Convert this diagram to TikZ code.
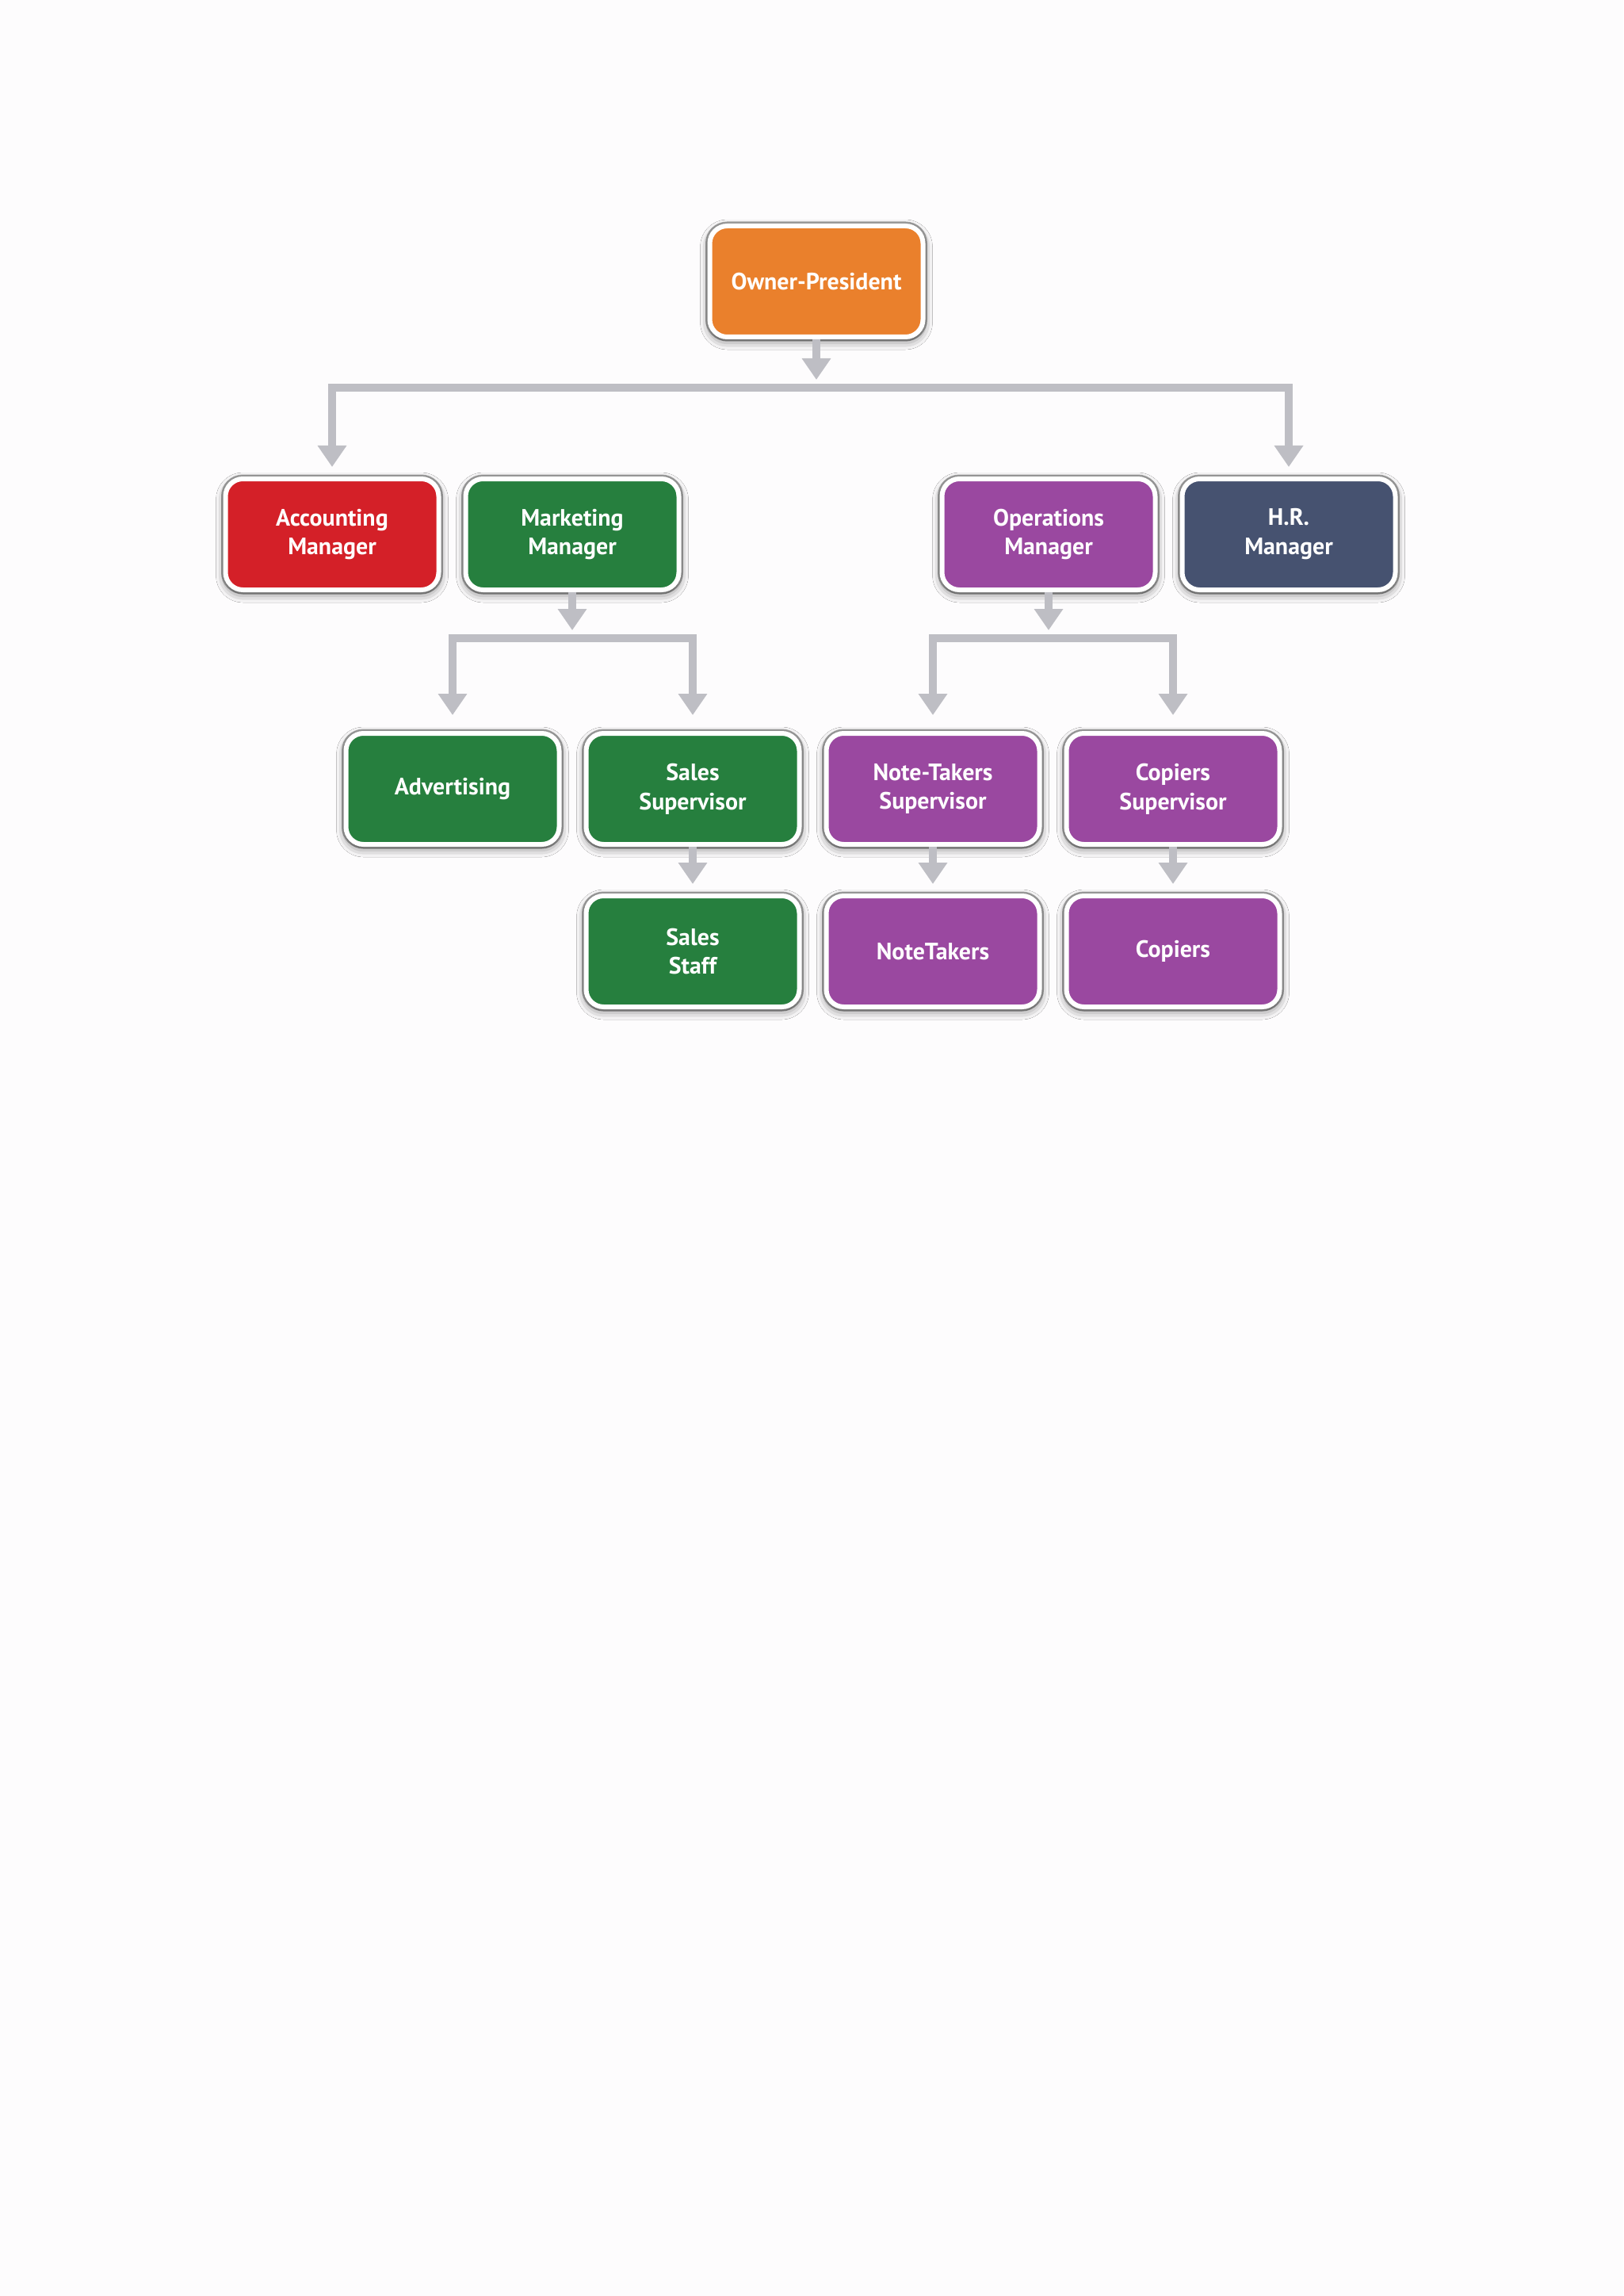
\documentclass[tikz,border=0pt]{standalone}
\usepackage{fontspec}
\setmainfont{PT Sans}
\usetikzlibrary{positioning, arrows.meta, shadows.blur, calc}
\definecolor{orgorange}{RGB}{234,128,44}
\definecolor{orgred}{RGB}{212,32,40}
\definecolor{orggreen}{RGB}{38,127,62}
\definecolor{orgpurple}{RGB}{154,72,160}
\definecolor{orgnavy}{RGB}{70,82,112}
\definecolor{orggrey}{RGB}{190,190,196}
\definecolor{orgpaper}{RGB}{253,252,253}

\begin{document}
\begin{tikzpicture}[
      node distance=0.28cm,
      unit/.style={rectangle, rounded corners=0.22cm, draw=white, line width=0.06cm,
        preaction={draw=black!35, line width=0.11cm},
        blur shadow={shadow xshift=0pt, shadow yshift=-0.04cm, shadow blur radius=0.12cm, shadow opacity=60},
        text=white, font=\fontsize{8.5}{10.5}\selectfont\bfseries, align=center,
        minimum width=2.69cm, minimum height=1.40cm},
      link/.style={draw=orggrey, line width=0.1cm},
      arrow/.style={link, -{Triangle[width=0.35cm, length=0.27cm]}}
    ]
      % Page
      \fill[orgpaper] (0,0) rectangle (20.48,-28.96);
      \useasboundingbox (0,0) rectangle (20.48,-28.96);

      % Owner
      \node[unit, fill=orgorange] (owner) at (10.30,-3.55) {Owner-President};

      % Managers
      \node[unit, fill=orgred] (acc) at (4.19,-6.74) {Accounting\\Manager};
      \node[unit, fill=orggreen, right=of acc] (mkt) {Marketing\\Manager};
      \node[unit, fill=orgpurple] (ops) at (13.23,-6.74) {Operations\\Manager};
      \node[unit, fill=orgnavy, right=of ops] (hr) {H.R.\\Manager};

      % Supervisors
      \node[unit, fill=orggreen] (adv) at (5.71,-9.95) {Advertising};
      \node[unit, fill=orggreen, right=of adv] (salessup) {Sales\\Supervisor};
      \node[unit, fill=orgpurple, right=of salessup] (notesup) {Note-Takers\\Supervisor};
      \node[unit, fill=orgpurple, right=of notesup] (copysup) {Copiers\\Supervisor};

      % Staff
      \node[unit, fill=orggreen, below=0.59cm of salessup] (salesstaff) {Sales\\Staff};
      \node[unit, fill=orgpurple, below=0.59cm of notesup] (notestaff) {NoteTakers};
      \node[unit, fill=orgpurple, below=0.59cm of copysup] (copystaff) {Copiers};

      % Bus points
      \coordinate[below=0.61cm of owner] (topbus);
      \coordinate[below=0.58cm of mkt] (mktbus);
      \coordinate[below=0.58cm of ops] (opsbus);

      % Draw arrows
      \draw[arrow, shorten >=0.1cm] (owner) -- (topbus);
      \draw[arrow, shorten >=0.12cm] (topbus) -| (acc);
      \draw[arrow, shorten >=0.12cm] (topbus) -| (hr);

      \draw[arrow, shorten >=0.1cm] (mkt) -- (mktbus);
      \draw[arrow, shorten >=0.2cm] (mktbus) -| (adv);
      \draw[arrow, shorten >=0.2cm] (mktbus) -| (salessup);

      \draw[arrow, shorten >=0.1cm] (ops) -- (opsbus);
      \draw[arrow, shorten >=0.2cm] (opsbus) -| (notesup);
      \draw[arrow, shorten >=0.2cm] (opsbus) -| (copysup);

      \draw[arrow, shorten >=0.12cm] (salessup) -- (salesstaff);
      \draw[arrow, shorten >=0.12cm] (notesup) -- (notestaff);
      \draw[arrow, shorten >=0.12cm] (copysup) -- (copystaff);
    \end{tikzpicture}
\end{document}
